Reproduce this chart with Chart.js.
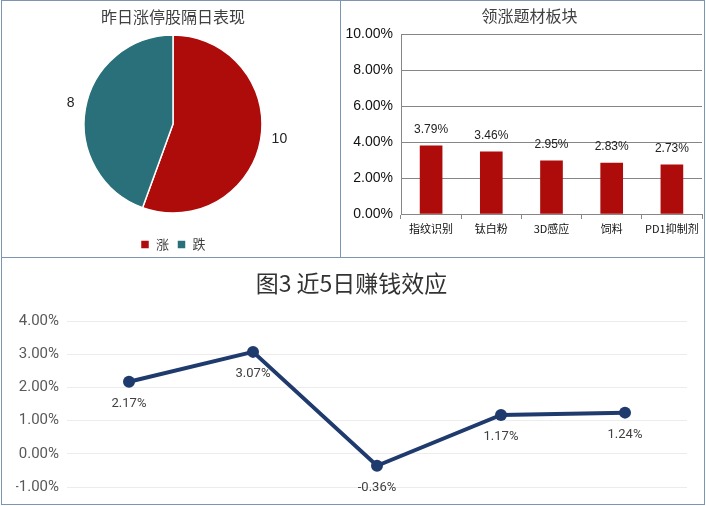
<!DOCTYPE html>
<html>
<head>
<meta charset="utf-8">
<script src="https://cdn.jsdelivr.net/npm/chart.js@4.4.0/dist/chart.umd.min.js"></script>
<style>
body { margin: 0; background: #fff; overflow: hidden; }
.panel { position: absolute; border: 1px solid #7c95b3; box-sizing: border-box; }
canvas { position: absolute; }
</style>
</head>
<body>
<div class="panel" style="left:1px;top:0;width:340px;height:258px"></div>
<div class="panel" style="left:340px;top:0;width:365px;height:258px"></div>
<div class="panel" style="left:1px;top:257px;width:704px;height:248px"></div>
<canvas id="pie" width="339" height="260" style="left:1px;top:1px"></canvas>
<canvas id="bar" width="377" height="256" style="left:341px;top:1px"></canvas>
<canvas id="line" width="703" height="246" style="left:1px;top:258px"></canvas>
<script>
// pie: 昨日涨停股隔日表现
const pieLabels = ['涨', '跌'];
const pieValues = [10, 8];

// bar: 领涨题材板块 (%)
const barCategories = ['指纹识别', '钛白粉', '3D感应', '饲料', 'PD1抑制剂'];
const barValues = [3.79, 3.46, 2.95, 2.83, 2.73];

// line: 近5日赚钱效应 (%)
const lineDays = ['第1日', '第2日', '第3日', '第4日', '第5日'];
const lineValues = [2.17, 3.07, -0.36, 1.17, 1.24];

const CJK = '"Noto Sans CJK SC", "Microsoft YaHei", sans-serif';
const NUM = '"Liberation Sans", Arial, sans-serif';
const NARROW = '"Liberation Sans Narrow", "Roboto", sans-serif';
const RED = '#ae0b0b';
const TEAL = '#29707a';
const NAVY = '#1f3a6d';

const pct = v => v.toFixed(2) + '%';

// empty axis that only reserves room on the right (the canvas runs past the panel edge)
function spacer(w) {
    return {
        position: 'right',
        display: true,
        grid: { display: false },
        border: { display: false },
        ticks: { display: false },
        afterFit(s) { s.width = w; }
    };
}

// labels outside each slice
const pieLabelPlugin = {
    id: 'pieLabels',
    afterDatasetsDraw(chart) {
        const ctx = chart.ctx;
        ctx.save();
        ctx.font = '14px ' + NUM;
        ctx.fillStyle = '#222';
        ctx.textAlign = 'center';
        ctx.textBaseline = 'middle';
        chart.getDatasetMeta(0).data.forEach((arc, i) => {
            const p = arc.getProps(['x', 'y', 'startAngle', 'endAngle', 'outerRadius'], true);
            const a = (p.startAngle + p.endAngle) / 2;
            const r = p.outerRadius + 17;
            ctx.fillText(pieValues[i], p.x + Math.cos(a) * r + 2, p.y + Math.sin(a) * r - 3);
        });
        ctx.restore();
    }
};

// value labels above bars / below points
function valueLabels(id, font, color, dy) {
    return {
        id: id,
        afterDatasetsDraw(chart) {
            const ctx = chart.ctx;
            const vals = chart.data.datasets[0].data;
            ctx.save();
            ctx.font = font;
            ctx.fillStyle = color;
            ctx.textAlign = 'center';
            ctx.textBaseline = 'middle';
            chart.getDatasetMeta(0).data.forEach((el, i) => {
                ctx.fillText(pct(vals[i]), el.x, el.y + dy);
            });
            ctx.restore();
        }
    };
}

new Chart(document.getElementById('pie'), {
    type: 'pie',
    data: {
        labels: pieLabels,
        datasets: [{
            data: pieValues,
            backgroundColor: [RED, TEAL],
            borderColor: '#fff',
            borderWidth: 1.5,
            radius: 89
        }]
    },
    options: {
        responsive: false,
        animation: false,
        layout: { padding: { left: 5 } },
        plugins: {
            title: {
                display: true,
                text: '昨日涨停股隔日表现',
                color: '#404040',
                font: { size: 16, family: CJK, weight: 'normal' },
                padding: { top: 6, bottom: 4 }
            },
            legend: {
                position: 'bottom',
                title: { display: true, text: '', font: { size: 10 }, padding: 0 },
                labels: { boxWidth: 9, boxHeight: 9, padding: 8, color: '#404040', font: { size: 13, family: CJK } }
            },
            tooltip: { enabled: false }
        }
    },
    plugins: [pieLabelPlugin]
});

new Chart(document.getElementById('bar'), {
    type: 'bar',
    data: {
        labels: barCategories,
        datasets: [{ data: barValues, backgroundColor: RED, barThickness: 22 }]
    },
    options: {
        responsive: false,
        animation: false,
        plugins: {
            legend: { display: false },
            tooltip: { enabled: false },
            title: {
                display: true,
                text: '领涨题材板块',
                color: '#404040',
                font: { size: 16, family: CJK, weight: 'normal' },
                padding: { top: 5.4, bottom: 8.4 }
            }
        },
        scales: {
            y: {
                min: 0,
                max: 10,
                ticks: { stepSize: 2, padding: 8, color: '#111', font: { size: 14, family: NUM }, callback: v => pct(v) },
                grid: { color: '#868686', drawTicks: false },
                border: { color: '#868686' },
                afterFit(s) { s.width = 60; }
            },
            pad: spacer(16),
            x: {
                grid: { drawOnChartArea: false, tickLength: 5, color: '#868686', offset: true },
                border: { color: '#868686' },
                ticks: { padding: 3, color: '#111', font: { size: 11, family: CJK } },
                afterFit(s) { s.height = 43; }
            }
        }
    },
    plugins: [valueLabels('barLabels', '12px ' + NUM, '#222', -16)]
});

new Chart(document.getElementById('line'), {
    type: 'line',
    data: {
        labels: lineDays,
        datasets: [{
            data: lineValues,
            borderColor: NAVY,
            backgroundColor: NAVY,
            borderWidth: 4,
            pointRadius: 6,
            pointBorderWidth: 0,
            pointBackgroundColor: NAVY,
            tension: 0
        }]
    },
    options: {
        responsive: false,
        animation: false,
        layout: { padding: { left: 15, right: 17, bottom: 15 } },
        plugins: {
            legend: { display: false },
            tooltip: { enabled: false },
            title: {
                display: true,
                text: '图3 近5日赚钱效应',
                color: '#333',
                font: { size: 23, family: CJK, weight: 'normal' },
                padding: { top: 11.2, bottom: 24.2 }
            }
        },
        scales: {
            x: { display: false, offset: true },
            y: {
                min: -1,
                max: 4,
                ticks: { stepSize: 1, padding: 8, color: '#595959', font: { size: 15, family: NARROW }, callback: v => pct(v) },
                grid: { color: '#ececec', drawTicks: false },
                border: { display: false },
                afterFit(s) { s.width = 51; }
            }
        }
    },
    plugins: [valueLabels('lineLabels', '13px ' + NARROW, '#404040', 22)]
});
</script>
</body>
</html>
